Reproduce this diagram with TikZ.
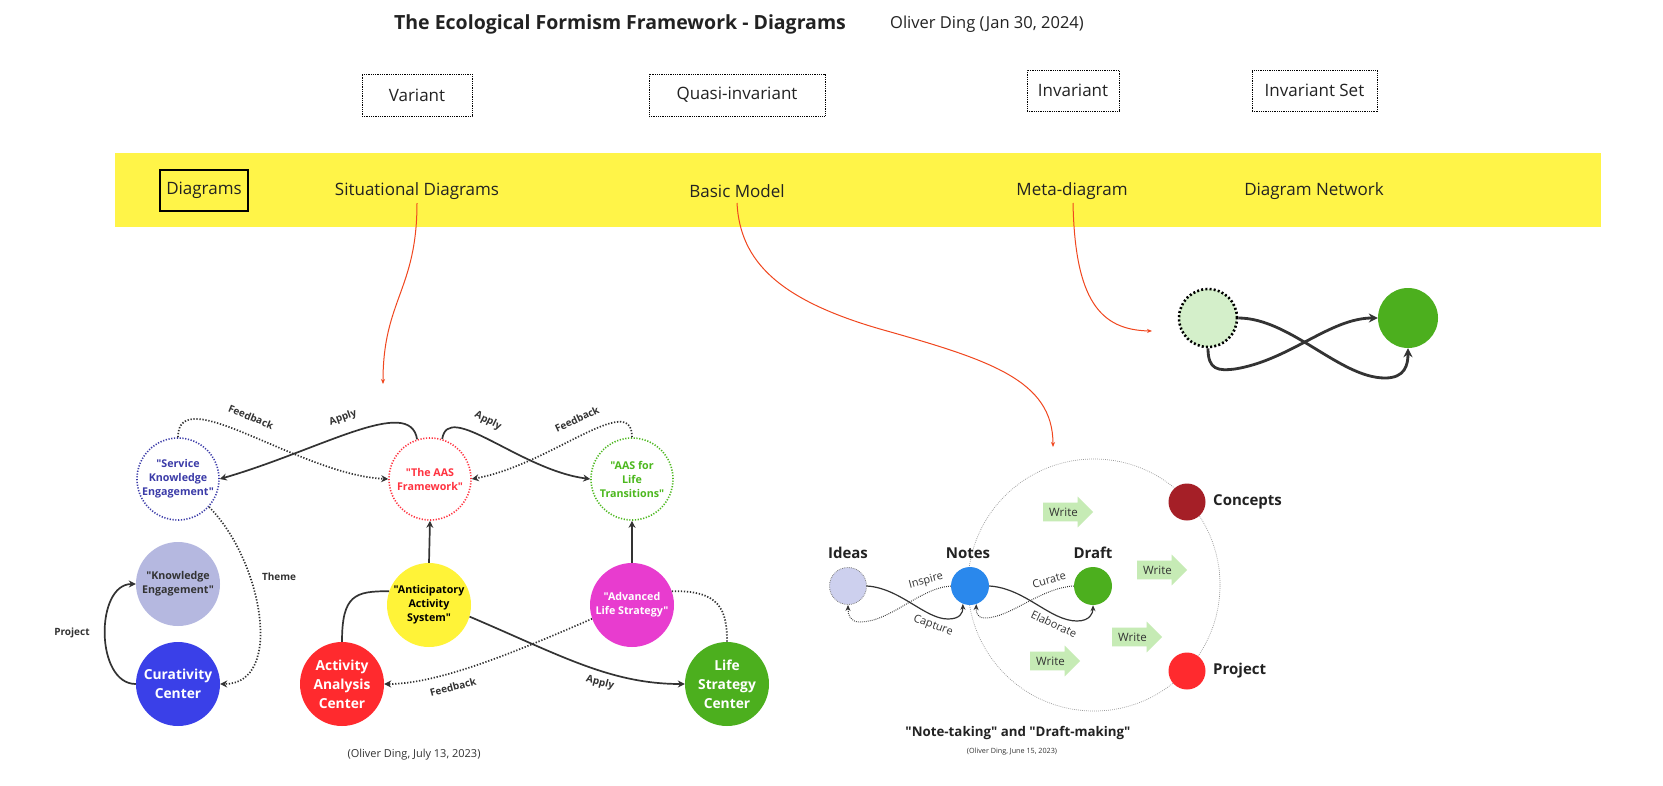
\documentclass[tikz,border=0pt]{standalone}
\usepackage{fontspec}
\setmainfont{Open Sans}[Ligatures=TeXOff]
\usetikzlibrary{arrows.meta,shapes.arrows}
\definecolor{txt}{HTML}{222222}
\definecolor{lk}{HTML}{333333}
\definecolor{bandy}{HTML}{FFF448}
\definecolor{redln}{HTML}{F0461E}
\definecolor{skeb}{HTML}{3B3BA8}
\definecolor{aasr}{HTML}{FF3340}
\definecolor{aasg}{HTML}{4CB81E}
\definecolor{kef}{HTML}{B5B8E0}
\definecolor{curb}{HTML}{3A40E8}
\definecolor{anty}{HTML}{FFF338}
\definecolor{aacr}{HTML}{FF2A2E}
\definecolor{alsm}{HTML}{E83CCF}
\definecolor{lscg}{HTML}{4CAF1E}
\definecolor{ideaf}{HTML}{CDD0EE}
\definecolor{noteb}{HTML}{2A88EC}
\definecolor{conr}{HTML}{A51F27}
\definecolor{wrg}{HTML}{C6EBB5}
\definecolor{mdf}{HTML}{D4EFCA}
\newcommand\fsz[2]{\fontsize{#1}{#2}\selectfont}
\begin{document}
\begin{tikzpicture}[x=1pt,y=-1pt,
  topbox/.style={draw=black, dash pattern=on 0.9pt off 0.9pt, line width=0.9pt, font=\fsz{17}{20}, text=txt, minimum height=42pt, inner sep=0pt},
  bandtxt/.style={font=\fsz{17}{20}, text=txt, inner sep=1pt},
  lc/.style={circle, minimum size=84pt, inner sep=0pt, align=center},
  dc/.style={circle, minimum size=82pt, inner sep=0pt, align=center, line width=1.6pt, dash pattern=on 1.2pt off 1.6pt, fill=white},
  smalltxt/.style={font=\bfseries\fsz{10.7}{14}},
  bigtxt/.style={font=\bfseries\fsz{13.8}{19}, text=white},
  conn/.style={draw=lk, line width=1.7pt},
  dotconn/.style={conn, dash pattern=on 1.3pt off 1.7pt},
  arrowhd/.style={-{Stealth[length=7pt,width=7pt]}},
  elab/.style={font=\bfseries\fsz{10}{12}, text=lk, inner sep=1pt},
  redline/.style={draw=redln, line width=1pt, -{Stealth[length=5pt,width=4pt]}},
  wrarrow/.style={single arrow, fill=wrg, minimum height=50pt, single arrow head extend=6pt, inner xsep=4pt, inner ysep=5pt, font=\fsz{11.5}{13}, text=lk, anchor=tail, align=left},
  sc/.style={circle, inner sep=0pt, minimum size=37pt},
  rlab/.style={font=\bfseries\fsz{15}{18}, text=txt, inner sep=0pt},
  clab/.style={font=\fsz{11}{13}, text=lk, inner sep=1pt},
  rconn/.style={draw=lk, line width=1.2pt},
  rdot/.style={draw=lk, line width=1pt, dash pattern=on 0.8pt off 1.2pt},
  rtip/.style={-{Stealth[length=6pt,width=5pt]}},
  mdline/.style={draw=lk, line width=2.8pt, -{Stealth[length=9pt,width=9pt]}}
]
\useasboundingbox (0,0) rectangle (1663,785);
\fill[white] (0,0) rectangle (1663,785);

% ---------- header ----------
\node[font=\bfseries\fsz{19.5}{22}, text=txt] (title) at (620,24) {The Ecological Formism Framework - Diagrams};
\node[font=\fsz{16.5}{20}, text=txt] (author) at (987,24) {Oliver Ding (Jan 30, 2024)};

\node[topbox, minimum width=110pt] (variant) at (417,95) {Variant};
\node[topbox, minimum width=176pt] (quasi) at (737,95) {Quasi-invariant};
\node[topbox, minimum width=92pt, minimum height=41pt] (inv) at (1073,90.5) {Invariant};
\node[topbox, minimum width=125pt, minimum height=41pt] (invset) at (1314.5,90.5) {Invariant Set};

\node[fill=bandy, minimum width=1486pt, minimum height=74pt, inner sep=0pt] (band) at (858,190) {};
\node[draw=black, line width=1.3pt, minimum width=88pt, minimum height=41pt, font=\fsz{17}{20}, text=txt, inner sep=0pt] (diag) at (204,190.5) {Diagrams};
\node[bandtxt] (situ) at (417,191) {Situational Diagrams};
\node[bandtxt] (basic) at (737,191) {Basic Model};
\node[bandtxt] (meta) at (1072,191) {Meta-diagram};
\node[bandtxt] (dnet) at (1314,191) {Diagram Network};

\coordinate (e1) at (383,384);
\coordinate (e2) at (1053,447);
\coordinate (e3) at (1152,331);
\draw[redline] (417,203) .. controls (417,290) and (383,300) .. (e1);
\draw[redline] (737,203) .. controls (740,262) and (780,300) .. (880,329) .. controls (990,360) and (1053,380) .. (e2);
\draw[redline] (1073,203) .. controls (1075,300) and (1100,330) .. (e3);

% ---------- meta diagram ----------
\node[circle, minimum size=58pt, fill=mdf, draw=black, line width=2.6pt, dash pattern=on 2pt off 2.2pt] (md1) at (1208,318) {};
\node[circle, minimum size=60pt, fill=lscg, inner sep=0pt] (md2) at (1408,318) {};
\draw[mdline] (md1.east) .. controls (1290,318) and (1340,378) .. (1385,378) .. controls (1405,378) and (1408,365) .. (md2.south);
\draw[mdline] (md1.south) .. controls (1208,370) and (1218,371) .. (1235,369) .. controls (1290,360) and (1330,318) .. (md2.west);

% ---------- left diagram ----------
\node[dc, draw=skeb, text=skeb, smalltxt] (ske) at (178,479) {"Service\\Knowledge\\Engagement"};
\node[dc, draw=aasr, text=aasr, smalltxt] (aas) at (430,479) {"The AAS\\Framework"};
\node[dc, draw=aasg, text=aasg, smalltxt] (aaslt) at (632,479) {"AAS for\\Life\\Transitions"};
\node[lc, fill=kef, text=lk, smalltxt] (ke) at (178,584) {"Knowledge\\Engagement"};
\node[lc, fill=curb, bigtxt] (cur) at (178,684) {Curativity\\Center};
\node[lc, fill=anty, text=black, smalltxt] (ant) at (429,605) {"Anticipatory\\Activity\\System"};
\node[lc, fill=aacr, bigtxt] (aac) at (342,684) {Activity\\Analysis\\Center};
\node[lc, fill=alsm, text=white, smalltxt] (als) at (632,605) {"Advanced\\Life Strategy"};
\node[lc, fill=lscg, bigtxt] (lsc) at (727,684) {Life\\Strategy\\Center};

\draw[dotconn, arrowhd] (ske.north) .. controls (178,380) and (300,475) .. (aas.west);
\draw[conn, arrowhd] (aas.108) .. controls (410,395) and (320,450) .. (ske.east);
\draw[conn, arrowhd] (aas.73) .. controls (448,400) and (520,470) .. (aaslt.west);
\draw[dotconn, arrowhd] (aaslt.north) .. controls (632,390) and (550,465) .. (aas.east);
\draw[conn, arrowhd] (ant.north) -- (aas.south);
\draw[conn, arrowhd] (als.north) -- (aaslt.south);
\draw[dotconn, arrowhd] (ske.-42) .. controls (262,560) and (285,684) .. (cur.east);
\draw[conn, arrowhd] (cur.west) .. controls (95,684) and (95,584) .. (ke.west);
\draw[conn] (aac.north) .. controls (342,595) and (355,591) .. (ant.161);
\draw[conn, arrowhd] (ant.-16) .. controls (560,655) and (610,684) .. (lsc.west);
\draw[dotconn, arrowhd] (als.-161) .. controls (520,650) and (440,684) .. (aac.east);
\draw[dotconn] (als.19) .. controls (720,590) and (727,610) .. (lsc.north);

\node[elab, rotate=-22] (lf1) at (251,417) {Feedback};
\node[elab, rotate=20] (la1) at (343,418) {Apply};
\node[elab, rotate=-27] (la2) at (488,421) {Apply};
\node[elab, rotate=25] (lf2) at (577,419) {Feedback};
\node[elab] (lth) at (279,577) {Theme};
\node[elab] (lpr) at (72,633) {Project};
\node[elab, rotate=-15] (la3) at (600,683) {Apply};
\node[elab, rotate=15] (lf3) at (453,687) {Feedback};
\node[font=\fsz{11}{13}, text=lk] (cap1) at (414,755) {(Oliver Ding, July 13, 2023)};

% ---------- right diagram ----------
\node[circle, minimum size=252pt, draw=gray!80, line width=0.7pt, dash pattern=on 0.8pt off 1.2pt] (orbit) at (1094,585) {};
\node[wrarrow] (w1) at (1043,512) {Write};
\node[wrarrow] (w2) at (1137,570) {Write};
\node[wrarrow] (w3) at (1112,637) {Write};
\node[wrarrow] (w4) at (1030,661) {Write};

\node[sc, fill=ideaf, draw=gray, line width=0.8pt, dash pattern=on 0.8pt off 1pt] (ideas) at (848,586) {};
\node[sc, fill=noteb, minimum size=38pt] (notes) at (970,586) {};
\node[sc, fill=lscg, minimum size=38pt] (draft) at (1093,586) {};
\node[sc, fill=conr] (conc) at (1187,502) {};
\node[sc, fill=aacr] (proj) at (1187,671) {};

\node[rlab] (lideas) at (848,553) {Ideas};
\node[rlab] (lnotes) at (968,553) {Notes};
\node[rlab] (ldraft) at (1093,553) {Draft};
\node[rlab, anchor=west] (lconc) at (1213,502) {Concepts};
\node[rlab, anchor=west] (lproj) at (1213,671) {Project};

\draw[rconn, rtip] (ideas.east) .. controls (900,588) and (925,619) .. (948,619) .. controls (960,619) and (963,613) .. (notes.-112);
\draw[rdot, rtip] (notes.west) .. controls (920,588) and (890,622) .. (860,622) .. controls (850,622) and (848,615) .. (ideas.south);
\draw[rconn, rtip] (notes.east) .. controls (1025,588) and (1050,621) .. (1077,621) .. controls (1090,621) and (1093,613) .. (draft.south);
\draw[rdot, rtip] (draft.west) .. controls (1040,588) and (1010,618) .. (985,618) .. controls (977,618) and (976,612) .. (notes.-71);

\node[clab, rotate=15] (linsp) at (926,581) {Inspire};
\node[clab, rotate=-20] (lcapt) at (933,626) {Capture};
\node[clab, rotate=15] (lcur) at (1049,580) {Curate};
\node[clab, rotate=-25] (lelab) at (1054,624) {Elaborate};

\node[font=\bfseries\fsz{13.3}{16}, text=txt] (cap2) at (1018,733) {"Note-taking" and "Draft-making"};
\node[font=\fsz{7.2}{9}, text=lk] (cap3) at (1012,752) {(Oliver Ding, June 15, 2023)};
\end{tikzpicture}
\end{document}
